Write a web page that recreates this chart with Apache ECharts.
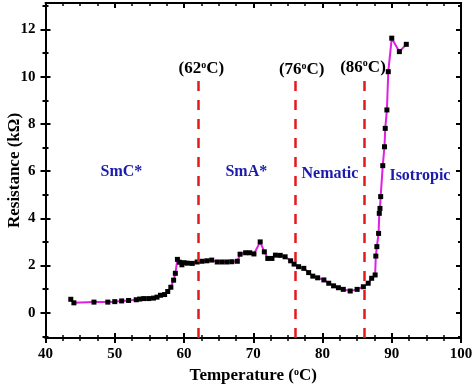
<!DOCTYPE html>
<html><head><meta charset="utf-8">
<script src="https://cdn.jsdelivr.net/npm/echarts@6/dist/echarts.min.js"></script>
<style>html,body{margin:0;padding:0;background:#fff}#c{width:474px;height:386px}</style>
</head><body><div id="c"></div>
<script>
var temperature = [43.65,44.1,47.0,49.0,50.0,51.0,52.0,53.1,53.6,54.2,54.9,55.6,56.1,56.6,57.2,57.65,58.1,58.5,58.75,59.05,59.35,59.7,60.0,60.5,61.2,61.9,62.6,63.3,64.0,64.8,65.5,66.2,66.9,67.7,68.1,68.9,69.5,70.1,71.0,71.6,72.1,72.7,73.2,73.9,74.6,75.4,75.9,76.55,77.3,78.0,78.6,79.3,80.2,80.9,81.6,82.3,83.0,84.0,85.0,85.9,86.6,87.1,87.6,87.7,87.85,88.1,88.2,88.3,88.4,88.7,88.95,89.06,89.3,89.5,90.0,91.1,92.1];
var resistance = [0.57,0.42,0.45,0.45,0.47,0.50,0.52,0.55,0.58,0.60,0.60,0.62,0.66,0.74,0.77,0.90,1.08,1.38,1.67,2.26,2.14,2.03,2.12,2.10,2.09,2.15,2.18,2.20,2.23,2.15,2.15,2.15,2.16,2.18,2.48,2.54,2.54,2.49,3.00,2.58,2.30,2.30,2.44,2.43,2.37,2.20,2.06,1.95,1.88,1.70,1.55,1.48,1.39,1.25,1.14,1.06,0.99,0.92,0.99,1.10,1.25,1.46,1.60,2.40,2.80,3.36,4.21,4.42,4.92,6.23,7.03,7.81,8.59,10.21,11.63,11.06,11.37];
var transitionTemps = [62, 76, 86];
var transitionLabelPos = [[62.5, 10.33], [77.0, 10.3], [85.85, 10.4]];
var phaseNames = ['SmC*', 'SmA*', 'Nematic', 'Isotropic'];
var phasePos = [[50.97, 5.97], [69.0, 5.95], [81.07, 5.9], [94.07, 5.8]];
var xTicks = [40, 50, 60, 70, 80, 90, 100];
var yMajorTicks = [0, 2, 4, 6, 8, 10, 12];
var yMinorTicks = [-1, 1, 3, 5, 7, 9, 11, 13];
var yMin = -1.07, yMax = 13.12, dashTop = 9.9;

var FONT = '"Liberation Serif", "Times New Roman", serif';
var sup = {fontSize: 10, fontWeight: 'bold', fontFamily: FONT, verticalAlign: 'top', padding: [0, 0, 7, 0], color: '#000'};
var big = {fontSize: 17, fontWeight: 'bold', fontFamily: FONT, color: '#000'};

function xAx(pos, inside, labels, name) {
  return {
    type: 'value', position: pos, min: 40, max: 100, interval: 10,
    axisLine: {show: true, onZero: false, lineStyle: {color: '#000', width: 2}},
    axisTick: {show: true, inside: inside, length: 5, lineStyle: {color: '#000', width: 2}},
    minorTick: {show: true, splitNumber: 4, length: 3, lineStyle: {color: '#000', width: 1.5}},
    splitLine: {show: false},
    axisLabel: {show: labels, margin: 9, fontSize: 15, fontWeight: 'bold', fontFamily: FONT, color: '#000'},
    name: name || '', nameLocation: 'middle', nameGap: 29, nameMoveOverlap: false,
    nameTextStyle: {rich: {b: big, s: sup}}
  };
}
function yAx(pos, inside, ticks, len, labels, name) {
  return {
    type: 'value', position: pos, min: yMin, max: yMax,
    axisLine: {show: true, onZero: false, lineStyle: {color: '#000', width: 2}},
    axisTick: {show: true, inside: inside, length: len, customValues: ticks, lineStyle: {color: '#000', width: 2}},
    splitLine: {show: false},
    axisLabel: {show: labels, customValues: yMajorTicks, margin: 10, fontSize: 15, fontWeight: 'bold', fontFamily: FONT, color: '#000'},
    name: name || '', nameLocation: 'middle', nameGap: 22, nameRotate: 90, nameMoveOverlap: false,
    nameTextStyle: {fontSize: 17, fontWeight: 'bold', fontFamily: FONT, color: '#000'}
  };
}

var chart = echarts.init(document.getElementById('c'), null, {renderer: 'canvas'});
var lineData = temperature.map(function (t, i) { return [t, resistance[i]]; });

var option = {
  animation: false,
  grid: {left: 45.5, right: 13, top: 3, bottom: 48, containLabel: false, outerBoundsMode: 'none'},
  xAxis: [
    xAx('bottom', false, true, '{b|Temperature (}{s|o}{b|C)}'),
    xAx('bottom', true, false),
    xAx('top', true, false)
  ],
  yAxis: [
    yAx('left', false, yMajorTicks, 5, true, 'Resistance (k\u03A9)'),
    yAx('left', false, yMinorTicks, 3, false),
    yAx('left', true, yMajorTicks, 5, false),
    yAx('left', true, yMinorTicks, 3, false),
    yAx('right', true, yMajorTicks, 5, false),
    yAx('right', true, yMinorTicks, 3, false)
  ],
  series: [
    {
      type: 'line', data: lineData, xAxisIndex: 0, yAxisIndex: 0,
      lineStyle: {color: '#e01fe3', width: 2},
      symbol: 'rect', symbolSize: 5, showSymbol: true,
      itemStyle: {color: '#000'},
      z: 3,
      markLine: {
        silent: true, symbol: 'none', animation: false,
        lineStyle: {color: '#e31a1c', type: [10, 9], width: 2.5},
        label: {show: false},
        data: transitionTemps.map(function (t) { return [{coord: [t, yMin]}, {coord: [t, dashTop]}]; })
      }
    },
    {
      type: 'scatter', xAxisIndex: 0, yAxisIndex: 0, symbolSize: 0, silent: true,
      itemStyle: {opacity: 1, color: 'rgba(0,0,0,0)'},
      data: transitionTemps.map(function (t, i) { return {value: transitionLabelPos[i], name: String(t)}; }),
      label: {
        show: true, position: 'inside', opacity: 1,
        formatter: function (p) { return '{b|(' + p.name + '}{s|o}{b|C)}'; },
        rich: {b: big, s: sup}
      }
    },
    {
      type: 'scatter', xAxisIndex: 0, yAxisIndex: 0, symbolSize: 0, silent: true,
      itemStyle: {opacity: 1, color: 'rgba(0,0,0,0)'},
      data: phaseNames.map(function (n, i) { return {value: phasePos[i], name: n}; }),
      label: {
        show: true, position: 'inside', formatter: '{b}', opacity: 1,
        fontSize: 16, fontWeight: 'bold', fontFamily: FONT, color: '#1c1caa'
      }
    }
  ]
};
chart.setOption(option);
</script></body></html>
